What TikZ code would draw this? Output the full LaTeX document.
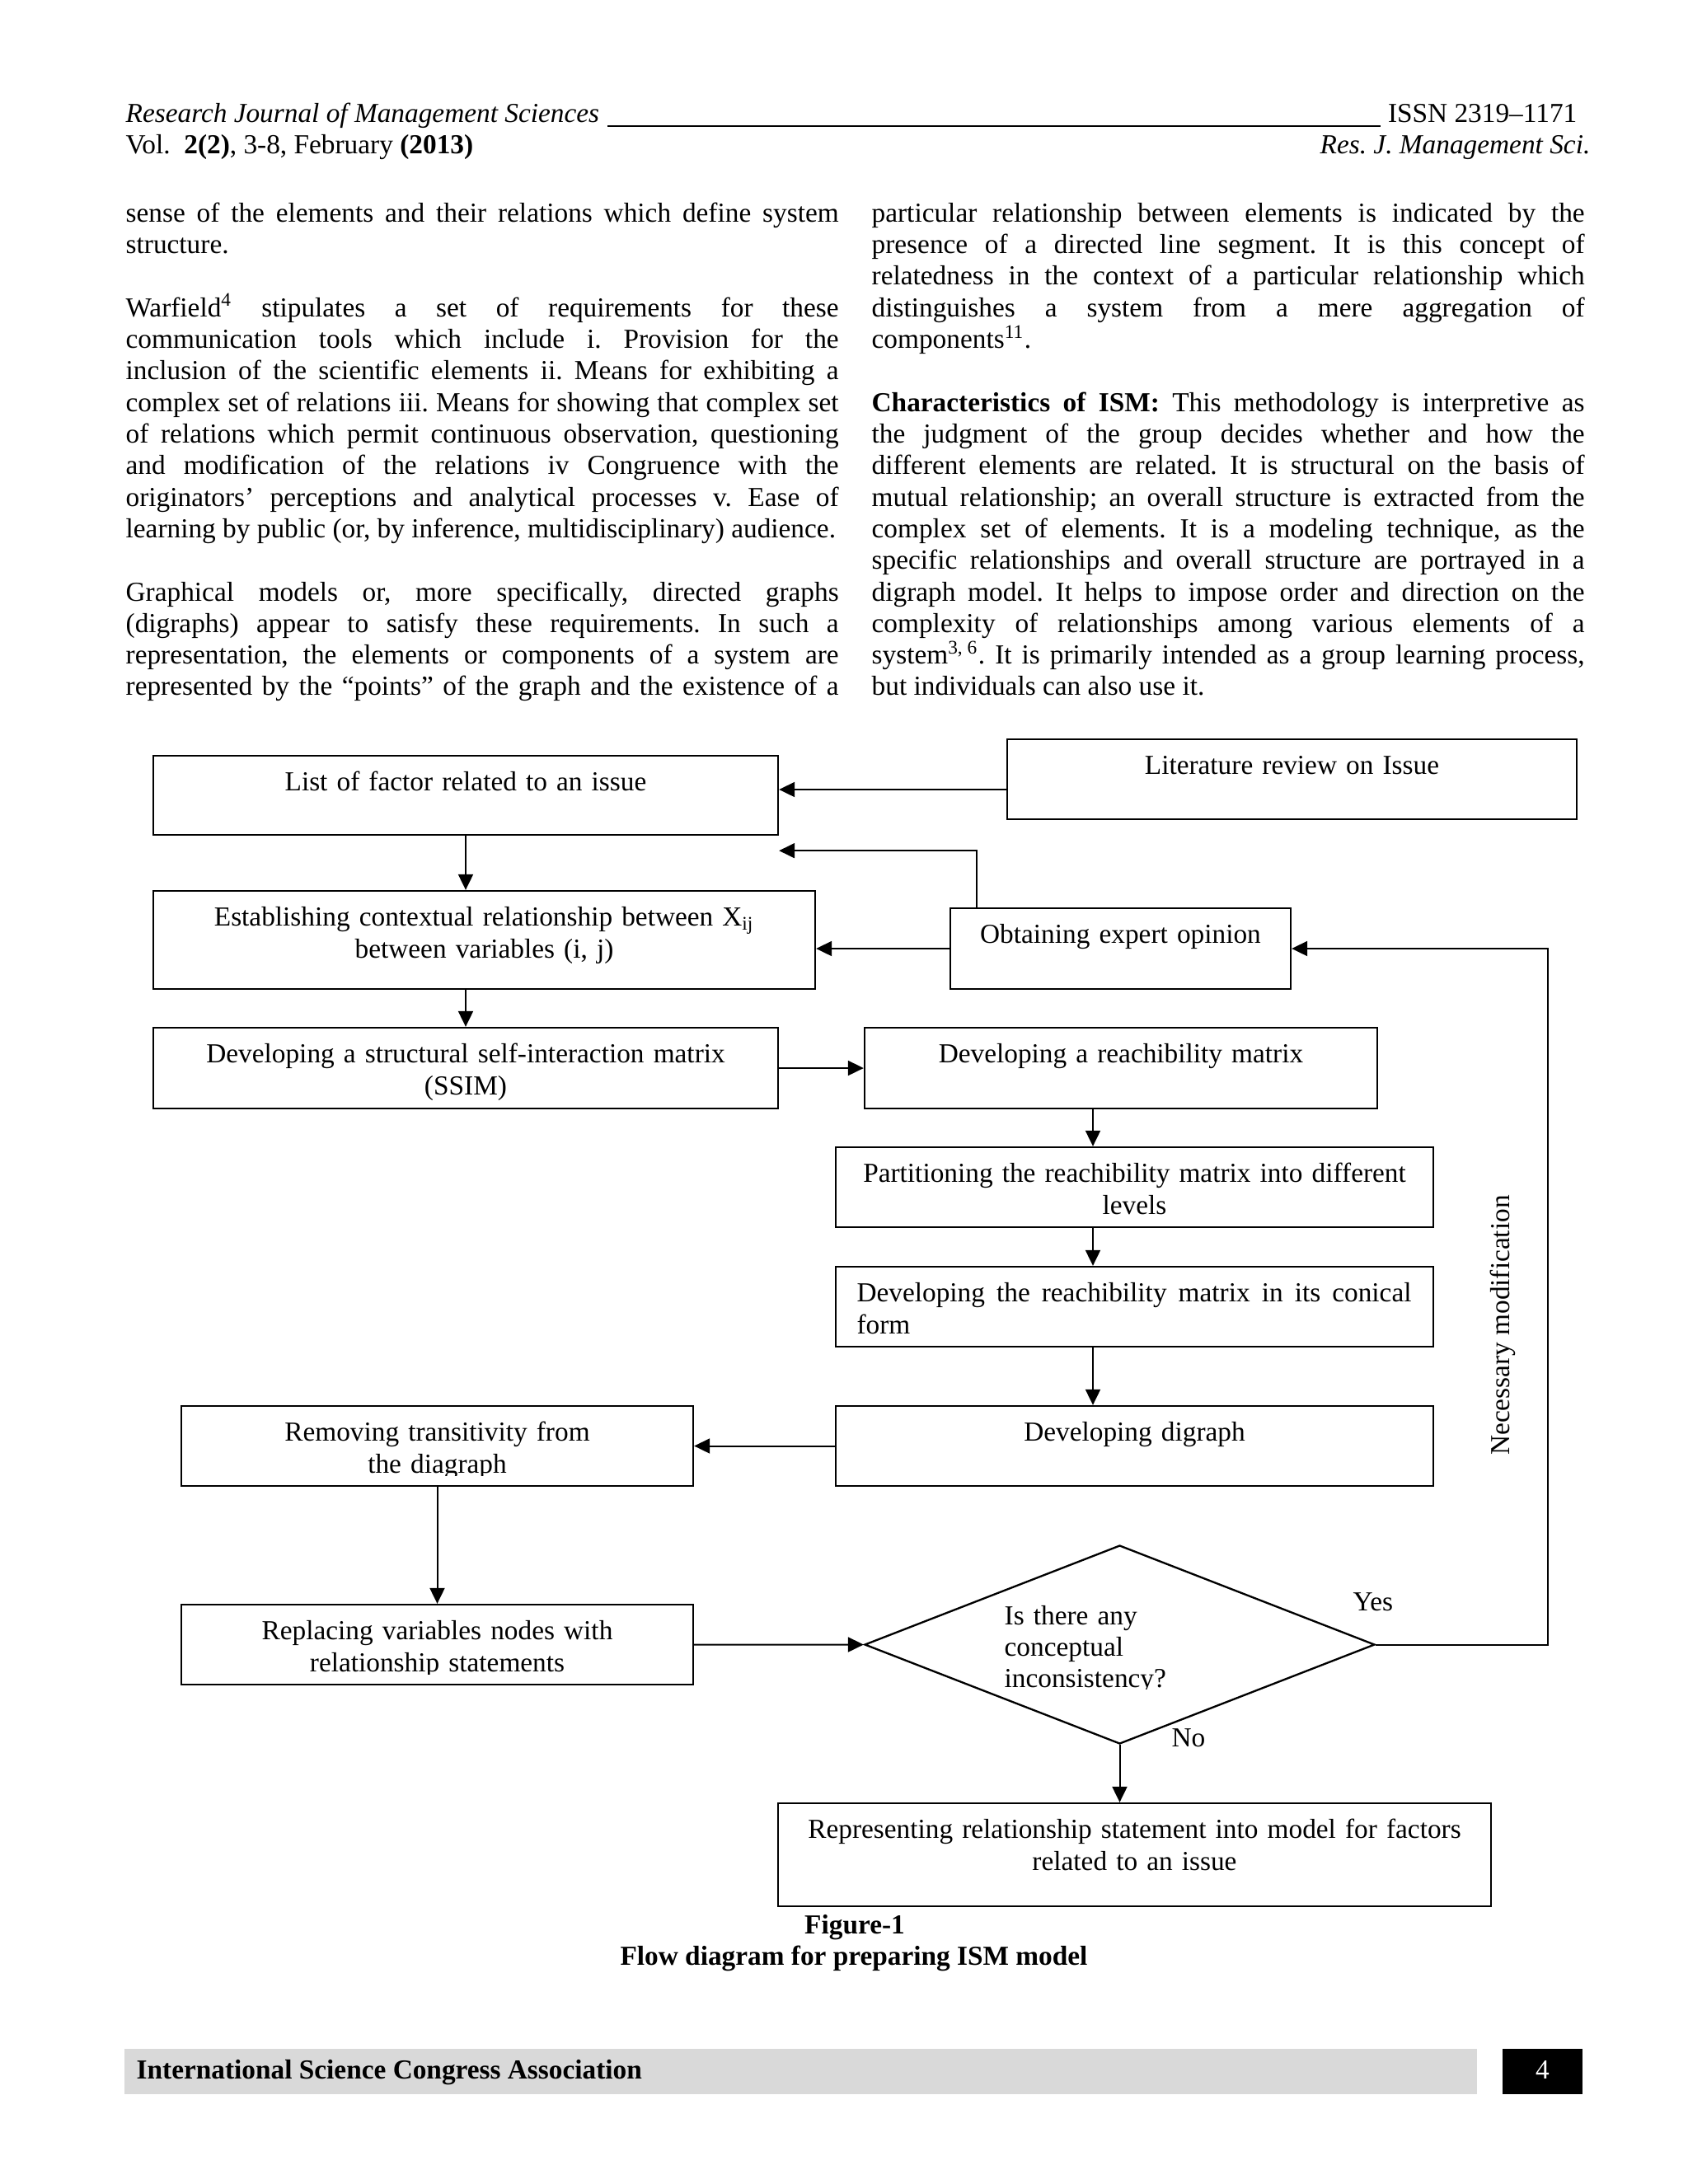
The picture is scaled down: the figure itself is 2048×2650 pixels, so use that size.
\documentclass[tikz,border=0pt]{standalone}
\usepackage{fontspec}
\setmainfont{Liberation Serif}
\usetikzlibrary{arrows.meta}
\usetikzlibrary{shapes.geometric}
\usetikzlibrary{fit}
\usetikzlibrary{positioning}
\definecolor{footgray}{RGB}{217,217,217}
\frenchspacing

\begin{document}
\begin{tikzpicture} [
  x=0.3pt, y=-0.3pt,
  every node/.style={inner sep=0pt,font=\fontsize{10pt}{11.5pt}\selectfont},
  box/.style={draw,line width=0.7pt,fit={#1}},
  boxtext/.style={anchor=base,align=center,text width=250pt},
  column/.style={anchor=base west,align=justify,text width=259.5pt},
  arr/.style={-{Triangle[length=5.7pt,width=5.4pt]},line width=0.6pt}
  ]
  \useasboundingbox (0,0) rectangle (2048,2650);

  % running head
  \node (journal) [anchor=base west] at (152,148) {\textit{Research Journal of Management Sciences}};
  \node (issn) [anchor=base east] at (1914,148) {ISSN 2319–1171};
  \draw [line width=0.6pt] ([xshift=2.7pt,yshift=-1.5pt]journal.base east) -- ([xshift=-2.4pt,yshift=-1.5pt]issn.base west);
  \node (vol) [anchor=base west] at (152,186) {Vol.\ \ \textbf{2(2)}, 3-8, February \textbf{(2013)}};
  \node (abbr) [anchor=base east] at (1930,186) {\textit{Res. J. Management Sci.}};

  % two columns of text
  \node (leftcol) [column] at (152,269) {%
    sense of the elements and their relations which define system\linebreak
    structure.\par\vspace{11.5pt}
    Warfield\textsuperscript{4} stipulates a set of requirements for these\linebreak
    communication tools which include i. Provision for the\linebreak
    inclusion of the scientific elements ii. Means for exhibiting a\linebreak
    complex set of relations iii. Means for showing that complex set\linebreak
    of relations which permit continuous observation, questioning\linebreak
    and modification of the relations iv Congruence with the\linebreak
    originators’ perceptions and analytical processes v. Ease of\linebreak
    learning by public (or, by inference, multidisciplinary) audience.\par\vspace{11.5pt}
    Graphical models or, more specifically, directed graphs\linebreak
    (digraphs) appear to satisfy these requirements. In such a\linebreak
    representation, the elements or components of a system are\linebreak
    represented by the “points” of the graph and the existence of a\parfillskip=0pt\par};
  \node (rightcol) [column] at (1057,269) {%
    particular relationship between elements is indicated by the\linebreak
    presence of a directed line segment. It is this concept of\linebreak
    relatedness in the context of a particular relationship which\linebreak
    distinguishes a system from a mere aggregation of\linebreak
    components\textsuperscript{11}.\par\vspace{11.5pt}
    \textbf{Characteristics of ISM:} This methodology is interpretive as\linebreak
    the judgment of the group decides whether and how the\linebreak
    different elements are related. It is structural on the basis of\linebreak
    mutual relationship; an overall structure is extracted from the\linebreak
    complex set of elements. It is a modeling technique, as the\linebreak
    specific relationships and overall structure are portrayed in a\linebreak
    digraph model. It helps to impose order and direction on the\linebreak
    complexity of relationships among various elements of a\linebreak
    system\textsuperscript{3, 6}. It is primarily intended as a group learning process,\linebreak
    but individuals can also use it.};

  % boxes
  \node (list) [box={(186,917) (944,1013)}] {};
  \node (lit) [box={(1222,897) (1913,994)}] {};
  \node (est) [box={(186,1081) (989,1200)}] {};
  \node (obt) [box={(1153,1102) (1566,1200)}] {};
  \node (ssim) [box={(186,1247) (944,1345)}] {};
  \node (reach) [box={(1049,1247) (1671,1345)}] {};
  \node (part) [box={(1014,1392) (1739,1489)}] {};
  \node (con) [box={(1014,1537) (1739,1634)}] {};
  \node (dig) [box={(1014,1706) (1739,1803)}] {};
  \node (rem) [box={(220,1706) (841,1803)}] {};
  \node (rep) [box={(220,1947) (841,2044)}] {};
  \node (dec) [draw,diamond,line width=0.7pt,minimum width=185.7pt,minimum height=72.3pt] at (1358.5,1995.5) {};
  \node (res) [box={(944,2188) (1809,2313)}] {};

  % box texts
  \node (listT) [boxtext] at ([yshift=-13.2pt]list.north) {List of factor related to an issue};
  \node (litT) [boxtext] at ([yshift=-13.2pt]lit.north) {Literature review on Issue};
  \node (estT) [boxtext] at ([yshift=-13.2pt]est.north) {Establishing contextual relationship between X\textsubscript{ij}\\between variables (i, j)};
  \node (obtT) [boxtext] at ([yshift=-13.2pt]obt.north) {Obtaining expert opinion};
  \node (ssimT) [boxtext] at ([yshift=-13.2pt]ssim.north) {Developing a structural self-interaction matrix\\(SSIM)};
  \node (reachT) [boxtext] at ([yshift=-13.2pt]reach.north) {Developing a reachibility matrix};
  \node (partT) [boxtext] at ([yshift=-13.2pt]part.north) {Partitioning the reachibility matrix into different\\levels};
  \node (conT) [anchor=base west,align=justify,text width=201.9pt] at ([xshift=7.8pt,yshift=-13.2pt]con.north west) {Developing the reachibility matrix in its conical\linebreak form};
  \node (digT) [boxtext] at ([yshift=-13.2pt]dig.north) {Developing digraph};
  \begin{scope}
    \clip (200,1700) rectangle (860,1790);
    \node (remT) [boxtext] at ([yshift=-13.2pt]rem.north) {Removing transitivity from\\the diagraph};
  \end{scope}
  \begin{scope}
    \clip (200,1940) rectangle (860,2031);
    \node (repT) [boxtext] at ([yshift=-13.2pt]rep.north) {Replacing variables nodes with\\relationship statements};
  \end{scope}
  \begin{scope}
    \clip (1200,1930) rectangle (1560,2049.5);
    \node (decT) [anchor=base west,align=left,text width=110pt] at (1218,1971) {Is there any\\conceptual\\inconsistency?};
  \end{scope}
  \node (resT) [boxtext] at ([yshift=-13.2pt]res.north) {Representing relationship statement into model for factors\\related to an issue};

  % connectors
  \coordinate (litin) at ([yshift=2.1pt]list.east);
  \coordinate (fb) at ([yshift=-5.4pt]list.south east);
  \coordinate (spine) at ([xshift=-10.2pt]reach.south);
  \draw [arr] (lit.west |- litin) -- (litin);
  \draw [arr] ([xshift=9.9pt]obt.north west) |- (fb);
  \draw [arr] (obt.west) -- (obt.west -| est.east);
  \draw [arr] (dec.east) -| ([xshift=93.3pt]obt.east) -- (obt.east);
  \draw [arr] (list.south) -- (list.south |- est.north);
  \draw [arr] (list.south |- est.south) -- (list.south |- ssim.north);
  \draw [arr] (ssim.east) -- (reach.west);
  \draw [arr] (spine) -- (spine |- part.north);
  \draw [arr] (spine |- part.south) -- (spine |- con.north);
  \draw [arr] (spine |- con.south) -- (spine |- dig.north);
  \draw [arr] (dig.west) -- (rem.east);
  \draw [arr] (rem.south) -- (rem.south |- rep.north);
  \draw [arr] (rep.east) -- (dec.west);
  \draw [arr] (dec.south) -- (dec.south |- res.north);

  % labels
  \node (yes) [anchor=base west] at (1641,1954) {Yes};
  \node (no) [anchor=base west] at (1421,2119) {No};
  \node (mod) [anchor=base,rotate=90] at (1831,1608) {Necessary modification};

  % caption
  \node (figno) [anchor=base] at (1037,2346) {\textbf{Figure-1}};
  \node (figcap) [anchor=base] at (1036,2384) {\textbf{Flow diagram for preparing ISM model}};

  % footer
  \node (bar) [fill=footgray,fit={(151,2486) (1792,2541)}] {};
  \node (assoc) [anchor=base west] at (165,2522) {\textbf{International Science Congress Association}};
  \node (pg) [fill=black,fit={(1823,2486) (1920,2541)}] {};
  \node (pgnum) [anchor=base,text=white] at (1871.5,2522) {4};
\end{tikzpicture}
\end{document}
